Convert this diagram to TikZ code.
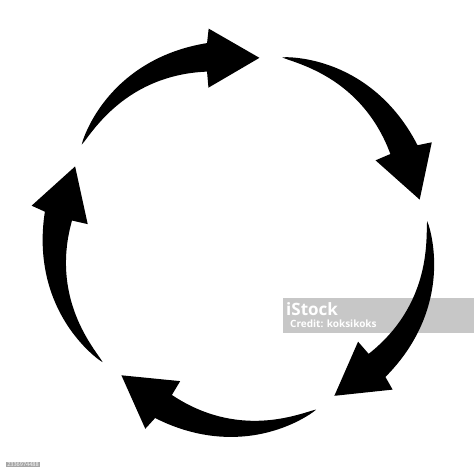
\documentclass[tikz,border=0pt]{standalone}
\usepackage{fontspec}
\setmainfont{Open Sans}
\usepackage{tikz}
\usetikzlibrary{positioning}
\tikzset{curvedarrow/.style={fill=black},
         band/.style={rectangle,fill=black,fill opacity=0.22,draw=none,inner sep=0pt,anchor=south west},
         brand/.style={text=white,font=\fontsize{17}{17}\selectfont\bfseries,inner sep=0pt,anchor=base west},
         credit/.style={text=white,font=\fontsize{10}{10}\selectfont\bfseries,inner sep=0pt,anchor=base west},
         idtag/.style={rectangle,fill=black!35,text=white,font=\fontsize{5.5}{5.5}\selectfont,inner sep=0.8pt}}

\begin{document}
\begin{tikzpicture}[x=1pt,y=1pt]
    \useasboundingbox (0,0) rectangle (474,474);
    % Arrows
    \begin{scope}[shift={(242,235)}]
      \foreach \a in {149.5,77.5,5.5,-66.5,-138.5}{
        \fill[curvedarrow] plot[domain=0:1,samples=40,variable=\t] ({\a-49.4*\t}:{186-\t+4*sin(180*\t)+14*sqrt(\t*sqrt(\t))})
          -- ({\a-50.5}:213) -- ({\a-65}:182) -- ({\a-47}:155)
          -- plot[domain=1:0,samples=40,variable=\t] ({\a-47.7*\t}:{186-\t+4*sin(180*\t)-14*sqrt(\t*sqrt(\t))}) -- cycle;
      }
    \end{scope}
    % Watermark
    \node (wm) at (283,141) [band,minimum width=191,minimum height=35]{};
    \node (brandname) at ([xshift=3,yshift=-18]wm.north west) [brand]{iStock};
    \node (credits) at ([xshift=7,yshift=-30]wm.north west) [credit]{Credit: koksikoks};
    \node (imageid) at (23,9.5) [idtag]{2336974488};
\end{tikzpicture}
\end{document}
